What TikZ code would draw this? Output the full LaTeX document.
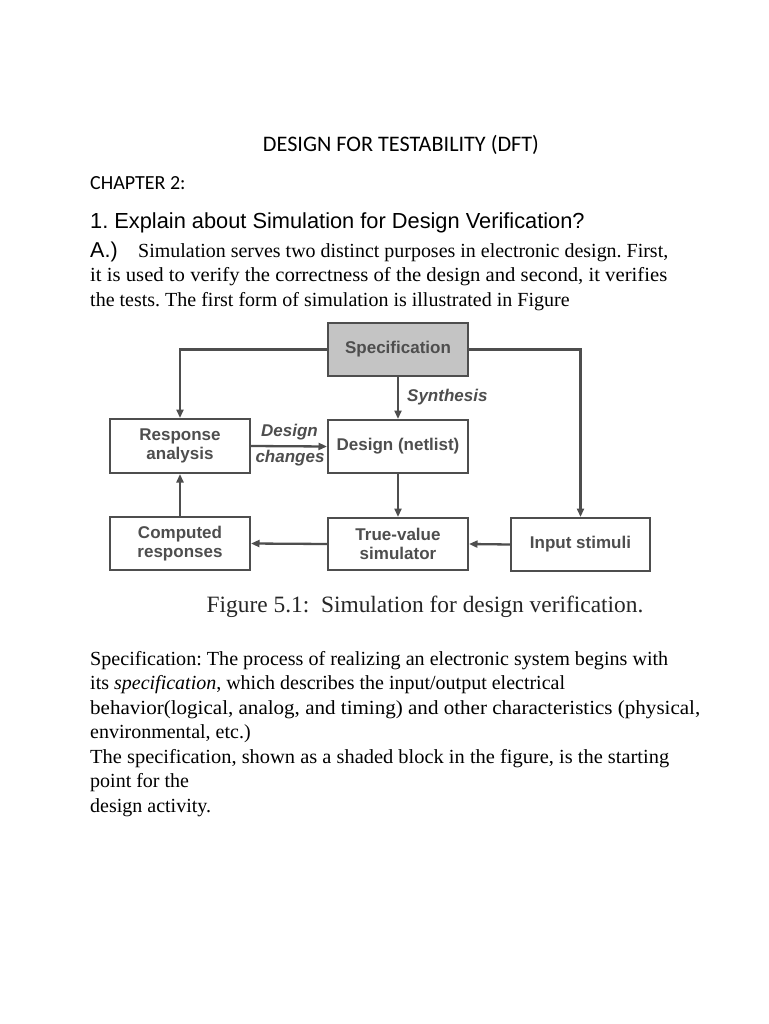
\documentclass[tikz,border=0pt]{standalone}
\usepackage{fontspec}
\usepackage{graphicx}
\setmainfont{Liberation Serif}
\newfontfamily\carl{Carlito}
\newfontfamily\ars{Liberation Sans}
\usetikzlibrary{arrows.meta}
\definecolor{dg}{HTML}{4E4E4E}
\definecolor{specgray}{HTML}{C4C4C4}
\frenchspacing
\hbadness=10000
\newcommand{\fitw}[2]{\resizebox{#1}{\height}{#2}}
\tikzset{
  blk/.style={draw=dg, line width=2pt, fill=white, minimum width=140pt, minimum height=54pt,
    inner sep=0pt, font=\ars\bfseries\fontsize{17}{19}\selectfont, text=dg, align=center},
  conn/.style={draw=dg, line width=2.3pt, -{Triangle[length=8.5pt,width=7pt]}},
  lbl/.style={font=\ars\bfseries\itshape\fontsize{17}{19}\selectfont, text=dg, inner sep=0pt},
  body/.style={anchor=base west, inner sep=0pt, font=\fontsize{20}{24}\selectfont},
}
\begin{document}
\begin{tikzpicture}[x=1pt,y=-1pt]
\useasboundingbox[fill=white] (0,0) rectangle (768,1024);

% header texts
\node[anchor=base, inner sep=0pt, font=\carl\fontsize{22.2}{26}\selectfont] (title) at (401,152) {DESIGN FOR TESTABILITY (DFT)};
\node[anchor=base west, inner sep=0pt, font=\carl\fontsize{20}{24}\selectfont] (chap) at (90,190) {CHAPTER 2:};
\node[anchor=base west, inner sep=0pt, font=\ars\fontsize{21.8}{24}\selectfont] (q) at (90,229) {1. Explain about Simulation for Design Verification?};
\node[anchor=base west, inner sep=0pt, font=\ars\fontsize{21.5}{24}\selectfont] (ans) at (90,257) {A.)};
\node[body] (l1) at (138,257) {\fitw{530pt}{Simulation serves two distinct purposes in electronic design. First,}};
\node[body] (l2) at (90,281.5) {\fitw{577pt}{it is used to verify the correctness of the design and second, it verifies}};
\node[body] (l3) at (90,306) {the tests. The first form of simulation is illustrated in Figure};

% diagram blocks
\node[blk, fill=specgray, minimum height=53pt] (spec) at (398,349.5) {Specification};
\node[blk] (resp) at (180,446) {Response\\analysis};
\node[blk, minimum height=53pt] (design) at (398,446.5) {Design (netlist)};
\node[blk, minimum height=53pt] (comp) at (180,543.5) {Computed\\responses};
\node[blk, minimum height=52pt] (tv) at (398,544) {True-value\\simulator};
\node[blk, minimum width=139pt, minimum height=53pt] (input) at (580.5,544.5) {Input stimuli};

% connectors
\draw[conn] (spec.west) -| (resp.north);
\draw[conn] (spec.east) -| (input.north);
\draw[conn] (spec.south) -- (design.north);
\node[lbl, anchor=west] (synth) at (407,397) {Synthesis};
\draw[conn] (resp.east) -- (design.west);
\node[lbl] (dlab) at (289.5,432) {Design};
\node[lbl] (clab) at (290,458.5) {changes};
\draw[conn] (design.south) -- (tv.north);
\draw[conn] (input.west) -- (tv.east);
\draw[conn] (tv.west) -- (comp.east);
\draw[conn] (comp.north) -- (resp.south);

% caption
\node[anchor=base, inner sep=0pt, font=\fontsize{23.4}{27}\selectfont, text=black!85] (cap) at (425,612) {Figure 5.1:\ \ Simulation for design verification.};

% paragraph
\node[body] (p1) at (90,665) {\fitw{578pt}{Specification: The process of realizing an electronic system begins with}};
\node[body] (p2) at (90,689.5) {its \textit{specification}, which describes the input/output electrical};
\node[body] (p3) at (90,714) {\fitw{610pt}{behavior(logical, analog, and timing) and other characteristics (physical,}};
\node[body] (p4) at (90,738.5) {environmental, etc.)};
\node[body] (p5) at (90,763) {\fitw{579pt}{The specification, shown as a shaded block in the figure, is the starting}};
\node[body] (p6) at (90,787.5) {point for the};
\node[body] (p7) at (90,812) {design activity.};
\end{tikzpicture}
\end{document}
